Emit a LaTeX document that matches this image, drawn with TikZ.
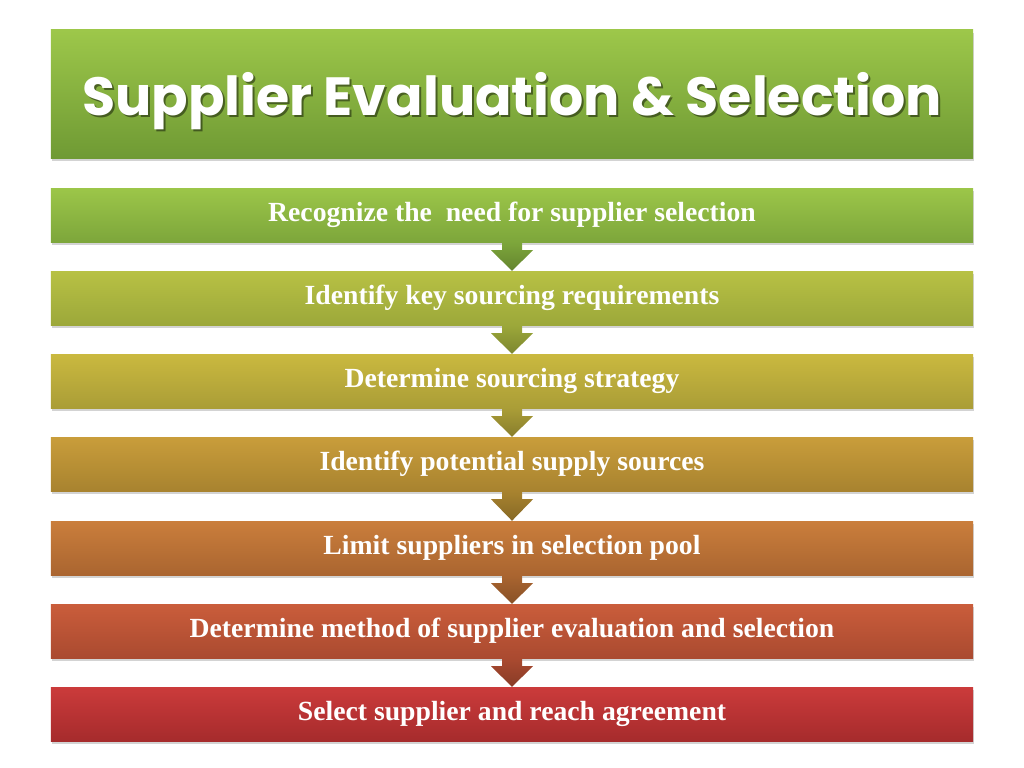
\documentclass[tikz,border=0pt]{standalone}
\usepackage{fontspec}
\setmainfont{Liberation Serif}
\newfontfamily\titlefont{Poppins}
\usepackage{tikz}
\usetikzlibrary{positioning, calc, shadows}
\definecolor{titletop}{HTML}{9DC74A}
\definecolor{titlebot}{HTML}{6F9A34}
\definecolor{onetop}{HTML}{9CC649}
\definecolor{onebot}{HTML}{7DA63B}
\definecolor{twotop}{HTML}{B8C144}
\definecolor{twobot}{HTML}{9CA83A}
\definecolor{threetop}{HTML}{CAB93F}
\definecolor{threebot}{HTML}{AA9D37}
\definecolor{fourtop}{HTML}{C99D3B}
\definecolor{fourbot}{HTML}{A8832F}
\definecolor{fivetop}{HTML}{CA7E3C}
\definecolor{fivebot}{HTML}{AA6530}
\definecolor{sixtop}{HTML}{CA5D3B}
\definecolor{sixbot}{HTML}{AA4A30}
\definecolor{seventop}{HTML}{CB3B3B}
\definecolor{sevenbot}{HTML}{A62B2C}

\begin{document}
\begin{tikzpicture}[x=1bp, y=-1bp,
    titlebox/.style={rectangle, minimum width=922bp, minimum height=128bp, inner sep=0pt,
        top color=titletop, bottom color=titlebot,
        drop shadow={shadow xshift=1bp, shadow yshift=-3bp, opacity=0.35}},
    titletext/.style={font=\titlefont\bfseries\fontsize{54}{60}\selectfont, text=white, inner sep=0pt},
    stepbox/.style={rectangle, minimum width=922bp, minimum height=54bp, inner sep=0pt,
        text=white, font=\bfseries\fontsize{27.8}{32}\selectfont,
        drop shadow={shadow xshift=1bp, shadow yshift=-2.5bp, opacity=0.35}},
    flowarrow/.style={draw=none}
]
\useasboundingbox (0,0) rectangle (1024,768);

% title
\node[titlebox] (title) at (512,94) {};
\node[titletext, text=black, opacity=0.45] at ([shift={(2,9)}]title.center) {Supplier Evaluation \& Selection};
\node[titletext] (titlelbl) at ([shift={(0,7)}]title.center) {Supplier Evaluation \& Selection};

% steps
\node[stepbox, top color=onetop, bottom color=onebot] (s1) at (512,215) {Recognize the\ \ need for supplier selection};
\node[stepbox, top color=twotop, bottom color=twobot] (s2) at (512,298) {Identify key sourcing requirements};
\node[stepbox, top color=threetop, bottom color=threebot] (s3) at (512,381) {Determine sourcing strategy};
\node[stepbox, top color=fourtop, bottom color=fourbot] (s4) at (512,464) {Identify potential supply sources};
\node[stepbox, top color=fivetop, bottom color=fivebot] (s5) at (512,548) {Limit suppliers in selection pool};
\node[stepbox, top color=sixtop, bottom color=sixbot] (s6) at (512,631) {Determine method of supplier evaluation and selection};
\node[stepbox, top color=seventop, bottom color=sevenbot] (s7) at (512,714) {Select supplier and reach agreement};

% arrows between steps
\foreach \a/\b/\c in {s1/s2/onebot, s2/s3/twobot, s3/s4/threebot, s4/s5/fourbot, s5/s6/fivebot, s6/s7/sixbot}{
  \shade[flowarrow, top color=\c, bottom color=\c!80!black]
    ($(\a.south)+(-10,0)$) -- ($(\a.south)+(-10,8)$) -- ($(\a.south)+(-21,8)$)
    -- (\b.north) -- ($(\a.south)+(21,8)$) -- ($(\a.south)+(10,8)$)
    -- ($(\a.south)+(10,0)$) -- cycle;
}

\end{tikzpicture}
\end{document}
